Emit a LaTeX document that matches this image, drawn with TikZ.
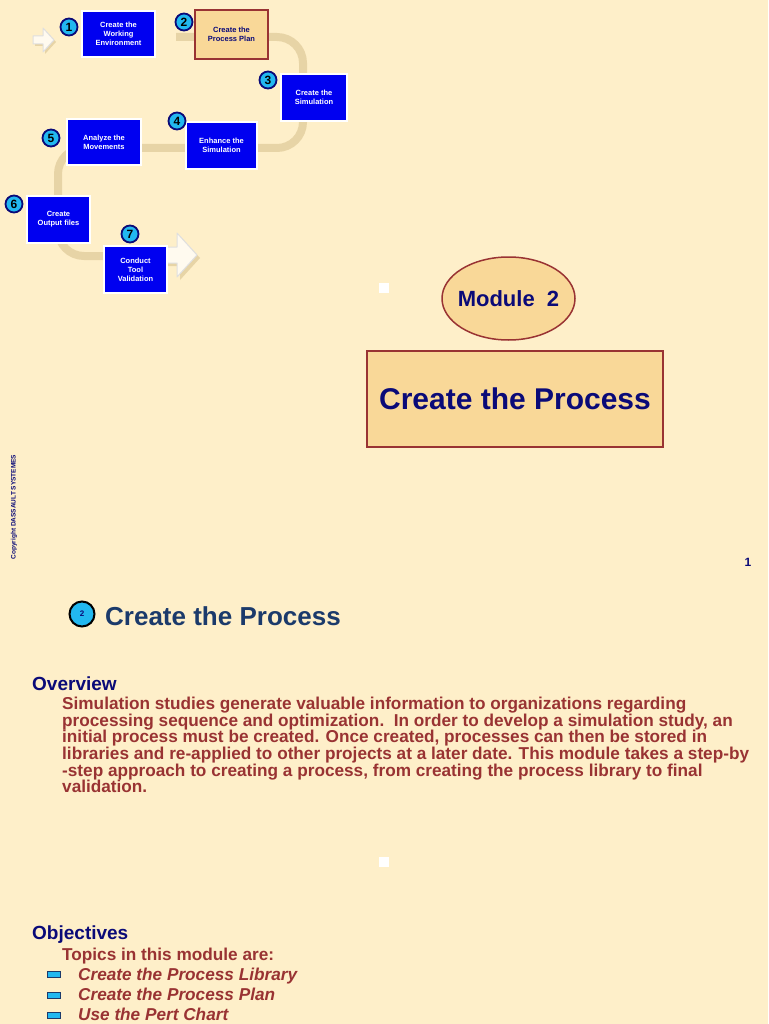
\documentclass[tikz,border=0pt]{standalone}
\usepackage{fontspec}
\setmainfont{Liberation Sans}
\usetikzlibrary{shapes.geometric}
\usetikzlibrary{positioning}
\definecolor{paper}{HTML}{FEEFC9}
\definecolor{trail}{HTML}{E7D4A6}
\definecolor{stepblue}{HTML}{0000F0}
\definecolor{sand}{HTML}{F9D898}
\definecolor{rust}{HTML}{993333}
\definecolor{ink}{HTML}{0A0A78}
\definecolor{steel}{HTML}{1B3A6B}
\definecolor{dot}{HTML}{22B8F0}
\newcommand{\fs}[2]{\fontsize{#1}{#2}\selectfont\bfseries}

\begin{document}
\begin{tikzpicture}[x=1pt,y=-1pt,
    stepbox/.style={rectangle,fill=stepblue,draw=white,line width=2pt,text=white,align=center,font=\fs{7.5}{9}},
    planbox/.style={rectangle,fill=sand,draw=rust,line width=1.5pt,text=ink,align=center,font=\fs{7.5}{9}},
    num/.style={circle,fill=dot,draw=ink,line width=1.8pt,inner sep=0pt,minimum size=17pt,font=\fs{12}{12}},
    band/.style={draw=trail,line width=8pt,rounded corners=26pt},
    pointer/.style={fill=white!70!paper,draw=white!75!gray,line width=1pt,line join=round},
    bullet/.style={rectangle,fill=dot,draw=steel,line width=1pt,minimum width=13pt,minimum height=6pt,inner sep=0pt}]
  \fill[paper] (0,0) rectangle (768,1024);

  % trail behind the steps
  \coordinate (t0) at (176,37);
  \coordinate (t1) at (303,37);
  \coordinate (t2) at (303,148);
  \coordinate (t3) at (58,148);
  \coordinate (t4) at (58,256);
  \coordinate (t5) at (176,256);
  \draw[band] (t0) -- (t1) -- (t2) -- (t3) -- (t4) -- (t5);

  % start and end pointers
  \fill[trail] (35,38) -- (45,38) -- (45,30) -- (56,42) -- (45,54) -- (45,46) -- (35,46) -- cycle;
  \path[pointer] (33,36) -- (43,36) -- (43,28) -- (54,40) -- (43,52) -- (43,44) -- (33,44) -- cycle;
  \fill[trail] (168,250) -- (180,250) -- (180,236) -- (200,258) -- (180,280) -- (180,266) -- (168,266) -- cycle;
  \path[pointer] (166,247) -- (177,247) -- (177,233) -- (197,255) -- (177,277) -- (177,263) -- (166,263) -- cycle;

  \node[stepbox,minimum width=73pt,minimum height=46pt] (b1) at (118.5,34) {Create the\\Working\\Environment};
  \node[planbox,minimum width=73pt,minimum height=49pt] (b2) at (231.5,34.5) {Create the\\Process Plan};
  \node[stepbox,minimum width=66pt,minimum height=47pt] (b3) at (314,97.5) {Create the\\Simulation};
  \node[stepbox,minimum width=71pt,minimum height=47pt] (b4) at (221.5,145.5) {Enhance the\\Simulation};
  \node[stepbox,minimum width=74pt,minimum height=46pt] (b5) at (104,142) {Analyze the\\Movements};
  \node[stepbox,minimum width=63pt,minimum height=47pt] (b6) at (58.5,219.5) {Create\\Output files};
  \node[stepbox,minimum width=63pt,minimum height=47pt] (b7) at (135.5,269.5) {Conduct\\Tool\\Validation};

  \node[num] (n1) at (69,27) {1};
  \node[num] (n2) at (184,22) {2};
  \node[num] (n3) at (268,80) {3};
  \node[num] (n4) at (177,121) {4};
  \node[num] (n5) at (51,138) {5};
  \node[num] (n6) at (14,204) {6};
  \node[num] (n7) at (130,234) {7};

  % title block
  \fill[white] (379,283) rectangle (389,293);
  \coordinate (mc) at (508.5,298.5);
  \draw[fill=sand,draw=rust,line width=1.5pt] (mc) ellipse [x radius=66.5pt,y radius=41.5pt];
  \node[text=ink,font=\fs{22}{22}] (module) at (mc) {Module\ \ 2};
  \node[rectangle,fill=sand,draw=rust,line width=1.5pt,minimum width=296pt,minimum height=96pt,text=ink,font=\fs{30}{30}] (title) at (515,399) {Create the Process};
  \node[rotate=90,text=ink,font=\fs{6.5}{6.5}] (copy) at (14,507) {Copyright DASSAULT SYSTEMES};
  \node[text=ink,font=\fs{12}{12}] (page) at (748,562) {1};

  % overview page
  \node[circle,fill=dot,draw=black,line width=2pt,minimum size=25pt,inner sep=0pt,text=ink,font=\fs{8}{8}] (mark) at (82,614) {2};
  \node[anchor=west,inner sep=0pt,text=steel,font=\fs{26}{26}] (head) at (105,616) {Create the Process};
  \node[anchor=base west,inner sep=0pt,text=ink,font=\fs{19}{19}] (ovw) at (32,690) {Overview};
  \node[anchor=north west,inner sep=0pt,text=rust,align=left,font=\fs{17.2}{16.6}] (para) at (62,697)
    {Simulation studies generate valuable information to organizations regarding\\
     processing sequence and optimization.\ \ In order to develop a simulation study, an\\
     initial process must be created. Once created, processes can then be stored in\\
     libraries and re-applied to other projects at a later date. This module takes a step-by\\
     -step approach to creating a process, from creating the process library to final\\
     validation.};
  \fill[white] (379,857) rectangle (389,867);
  \node[anchor=base west,inner sep=0pt,text=ink,font=\fs{19}{19}] (obj) at (32,939) {Objectives};
  \node[anchor=base west,inner sep=0pt,text=rust,font=\fs{17.2}{17.2}] (topics) at (62,960) {Topics in this module are:};
  \node[bullet] (d1) at (54,974) {};
  \node[bullet] (d2) at (54,995) {};
  \node[bullet] (d3) at (54,1015) {};
  \node[anchor=base west,inner sep=0pt,text=rust,font=\fs{17.2}{17.2}\itshape] (i1) at (78,980) {Create the Process Library};
  \node[anchor=base west,inner sep=0pt,text=rust,font=\fs{17.2}{17.2}\itshape] (i2) at (78,1000) {Create the Process Plan};
  \node[anchor=base west,inner sep=0pt,text=rust,font=\fs{17.2}{17.2}\itshape] (i3) at (78,1020) {Use the Pert Chart};
\end{tikzpicture}
\end{document}
